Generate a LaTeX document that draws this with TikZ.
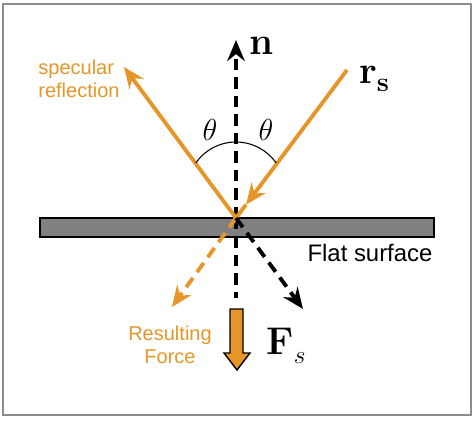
\documentclass[tikz,border=0pt]{standalone}
\usepackage{amsmath}
\usepackage{fontspec}
\setsansfont{Liberation Sans}
\usepackage{xcolor}
\usepackage{tikz}
\usetikzlibrary{arrows.meta,calc,positioning}
\definecolor{specorange}{RGB}{230,150,40}
\newcommand{\bigmath}[1]{\scalebox{1.3}{$#1$}}

\begin{document}
\begin{tikzpicture}[
    x=0.02cm, y=0.02cm,
    ray/.style={specorange, line width=2.2pt},
    normal/.style={black, line width=2.2pt, dash pattern=on 6.5pt off 4pt},
    raydash/.style={specorange, line width=2.2pt, dash pattern=on 6.5pt off 4pt},
    tip/.style={-{Stealth[length=12pt, width=10pt, inset=4pt]}},
    orangetext/.style={font=\sffamily\fontsize{11.4}{13.2}\selectfont, text=specorange, inner sep=0pt},
    mathlabel/.style={font=\fontsize{22}{26}\selectfont, inner sep=0pt},
    anglelabel/.style={font=\fontsize{17.28}{20}\selectfont, inner sep=0pt},
]

% Frame
\useasboundingbox (0,0) rectangle (474,420);
\draw[gray!90, line width=1pt] (3,5) rectangle (471,416);

% Key points
\coordinate (O) at (236,202);
\coordinate (ntip) at (236,380);
\coordinate (nlow) at (236,122);
\coordinate (rs) at (347,350);
\coordinate (spec) at (124,353);
\coordinate (rdown) at (172,113);
\coordinate (fsdown) at (303,111);
\coordinate (rin) at ($(O)!0.09!(rs)$);
\coordinate (arcc) at (236,229);

% Flat surface
\draw[fill=gray, line width=1.3pt] (40,183) rectangle (434,202);

% Normal
\draw[normal, tip] (O) -- (ntip);
\draw[normal] (O) -- (nlow);

% Incoming and reflected rays
\draw[ray, tip] (rs) -- (rin);
\draw[ray] (rin) -- (O);
\draw[ray, tip] (O) -- (spec);
\draw[raydash, tip] (O) -- (rdown);
\draw[normal, tip] (O) -- (fsdown);

% Angle arc
\draw[line width=0.6pt] ([shift={(145:49)}]arcc) arc[start angle=145, end angle=35, radius=49];

% Resulting force arrow
\draw[fill=specorange, line width=0.8pt] (230,111) -- (243,111) -- (243,67) -- (250,67)
    -- (237,50) -- (224,67) -- (230,67) -- cycle;

% Labels
\node[mathlabel] (nlab) at (262,374) {\textbf{n}};
\node[mathlabel] (rslab) at (374,341) {\textbf{r}\raisebox{-0.22em}{\fontsize{15.5}{16}\selectfont\textbf{s}}};
\node[orangetext, align=left, anchor=west] (speclab) at (38,341) {specular\\reflection};
\node[anglelabel] (thetal) at (210,290) {$\theta$};
\node[anglelabel] (thetar) at (266,290) {$\theta$};
\node[font=\sffamily\fontsize{13.6}{16}\selectfont, inner sep=0pt] (flat) at (370,167) {Flat surface};
\node[orangetext, align=center] (force) at (170,75) {Resulting\\Force};
\node[mathlabel] (fslab) at (286,74) {\textbf{F}\raisebox{-0.22em}{\fontsize{15.5}{16}\selectfont$s$}};

\end{tikzpicture}
\end{document}
